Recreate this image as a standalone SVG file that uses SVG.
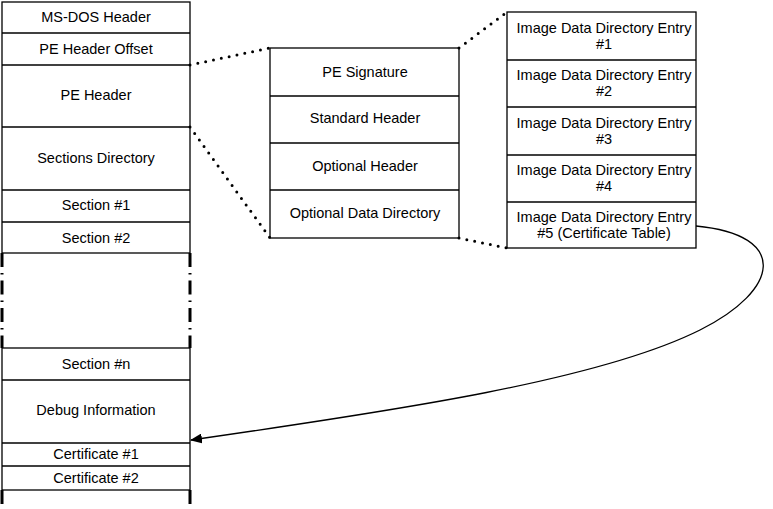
<svg xmlns="http://www.w3.org/2000/svg" width="773" height="509" viewBox="0 0 773 509">
<style>
.b{fill:#fff;stroke:#000;stroke-width:1.3}
.l{stroke:#000;stroke-width:1.3}
text{font-family:"Liberation Sans",Arial,sans-serif;font-size:14.5px;text-anchor:middle;fill:#000}
.dot{stroke:#000;stroke-width:3;stroke-linecap:round;stroke-dasharray:0 8;fill:none}
.dd{stroke:#000;stroke-width:3;stroke-dasharray:14 6 1.5 6;fill:none}
</style>
<defs><marker id="a" markerWidth="12" markerHeight="10" refX="11" refY="5" orient="auto" markerUnits="userSpaceOnUse"><path d="M0,0L12,5L0,10z"/></marker></defs>
<g id="left">
<rect class="b" x="2" y="2" width="188" height="251"/>
<line class="l" x1="2" y1="33" x2="190" y2="33"/><line class="l" x1="2" y1="65" x2="190" y2="65"/>
<line class="l" x1="2" y1="127" x2="190" y2="127"/><line class="l" x1="2" y1="190" x2="190" y2="190"/>
<line class="l" x1="2" y1="222" x2="190" y2="222"/>
<text x="96" y="22">MS-DOS Header</text><text x="96" y="54">PE Header Offset</text>
<text x="96" y="100">PE Header</text><text x="96" y="163">Sections Directory</text>
<text x="96" y="210">Section #1</text><text x="96" y="243">Section #2</text>
<path class="dd" d="M2,253V348M190,253V348M2,490V509M190,490V509"/>
<rect class="b" x="2" y="348" width="188" height="142"/>
<line class="l" x1="2" y1="380" x2="190" y2="380"/><line class="l" x1="2" y1="443" x2="190" y2="443"/>
<line class="l" x1="2" y1="466" x2="190" y2="466"/>
<text x="96" y="369">Section #n</text><text x="96" y="415">Debug Information</text>
<text x="96" y="459">Certificate #1</text><text x="96" y="483">Certificate #2</text>
</g>
<g id="middle">
<rect class="b" x="270" y="48" width="189" height="190"/>
<line class="l" x1="270" y1="96" x2="459" y2="96"/><line class="l" x1="270" y1="143" x2="459" y2="143"/>
<line class="l" x1="270" y1="190" x2="459" y2="190"/>
<text x="365" y="77">PE Signature</text><text x="365" y="123">Standard Header</text>
<text x="365" y="171">Optional Header</text><text x="365" y="218">Optional Data Directory</text>
</g>
<g id="right">
<rect class="b" x="507" y="12" width="189" height="236"/>
<line class="l" x1="507" y1="60" x2="696" y2="60"/><line class="l" x1="507" y1="107" x2="696" y2="107"/>
<line class="l" x1="507" y1="155" x2="696" y2="155"/><line class="l" x1="507" y1="202" x2="696" y2="202"/>
<text x="604" y="33">Image Data Directory Entry</text><text x="604" y="49">#1</text>
<text x="604" y="80">Image Data Directory Entry</text><text x="604" y="96">#2</text>
<text x="604" y="128">Image Data Directory Entry</text><text x="604" y="144">#3</text>
<text x="604" y="175">Image Data Directory Entry</text><text x="604" y="191">#4</text>
<text x="604" y="222">Image Data Directory Entry</text><text x="604" y="238">#5 (Certificate Table)</text>
</g>
<g id="connectors">
<path class="dot" d="M190,65L270,48M190,127L270,238M459,48L507,12M459,238L507,248"/>
<path d="M696,226C790,235 780,290 700,330C600,380 400,410 191,440" fill="none" stroke="#000" stroke-width="1.3" marker-end="url(#a)"/>
</g>
</svg>
